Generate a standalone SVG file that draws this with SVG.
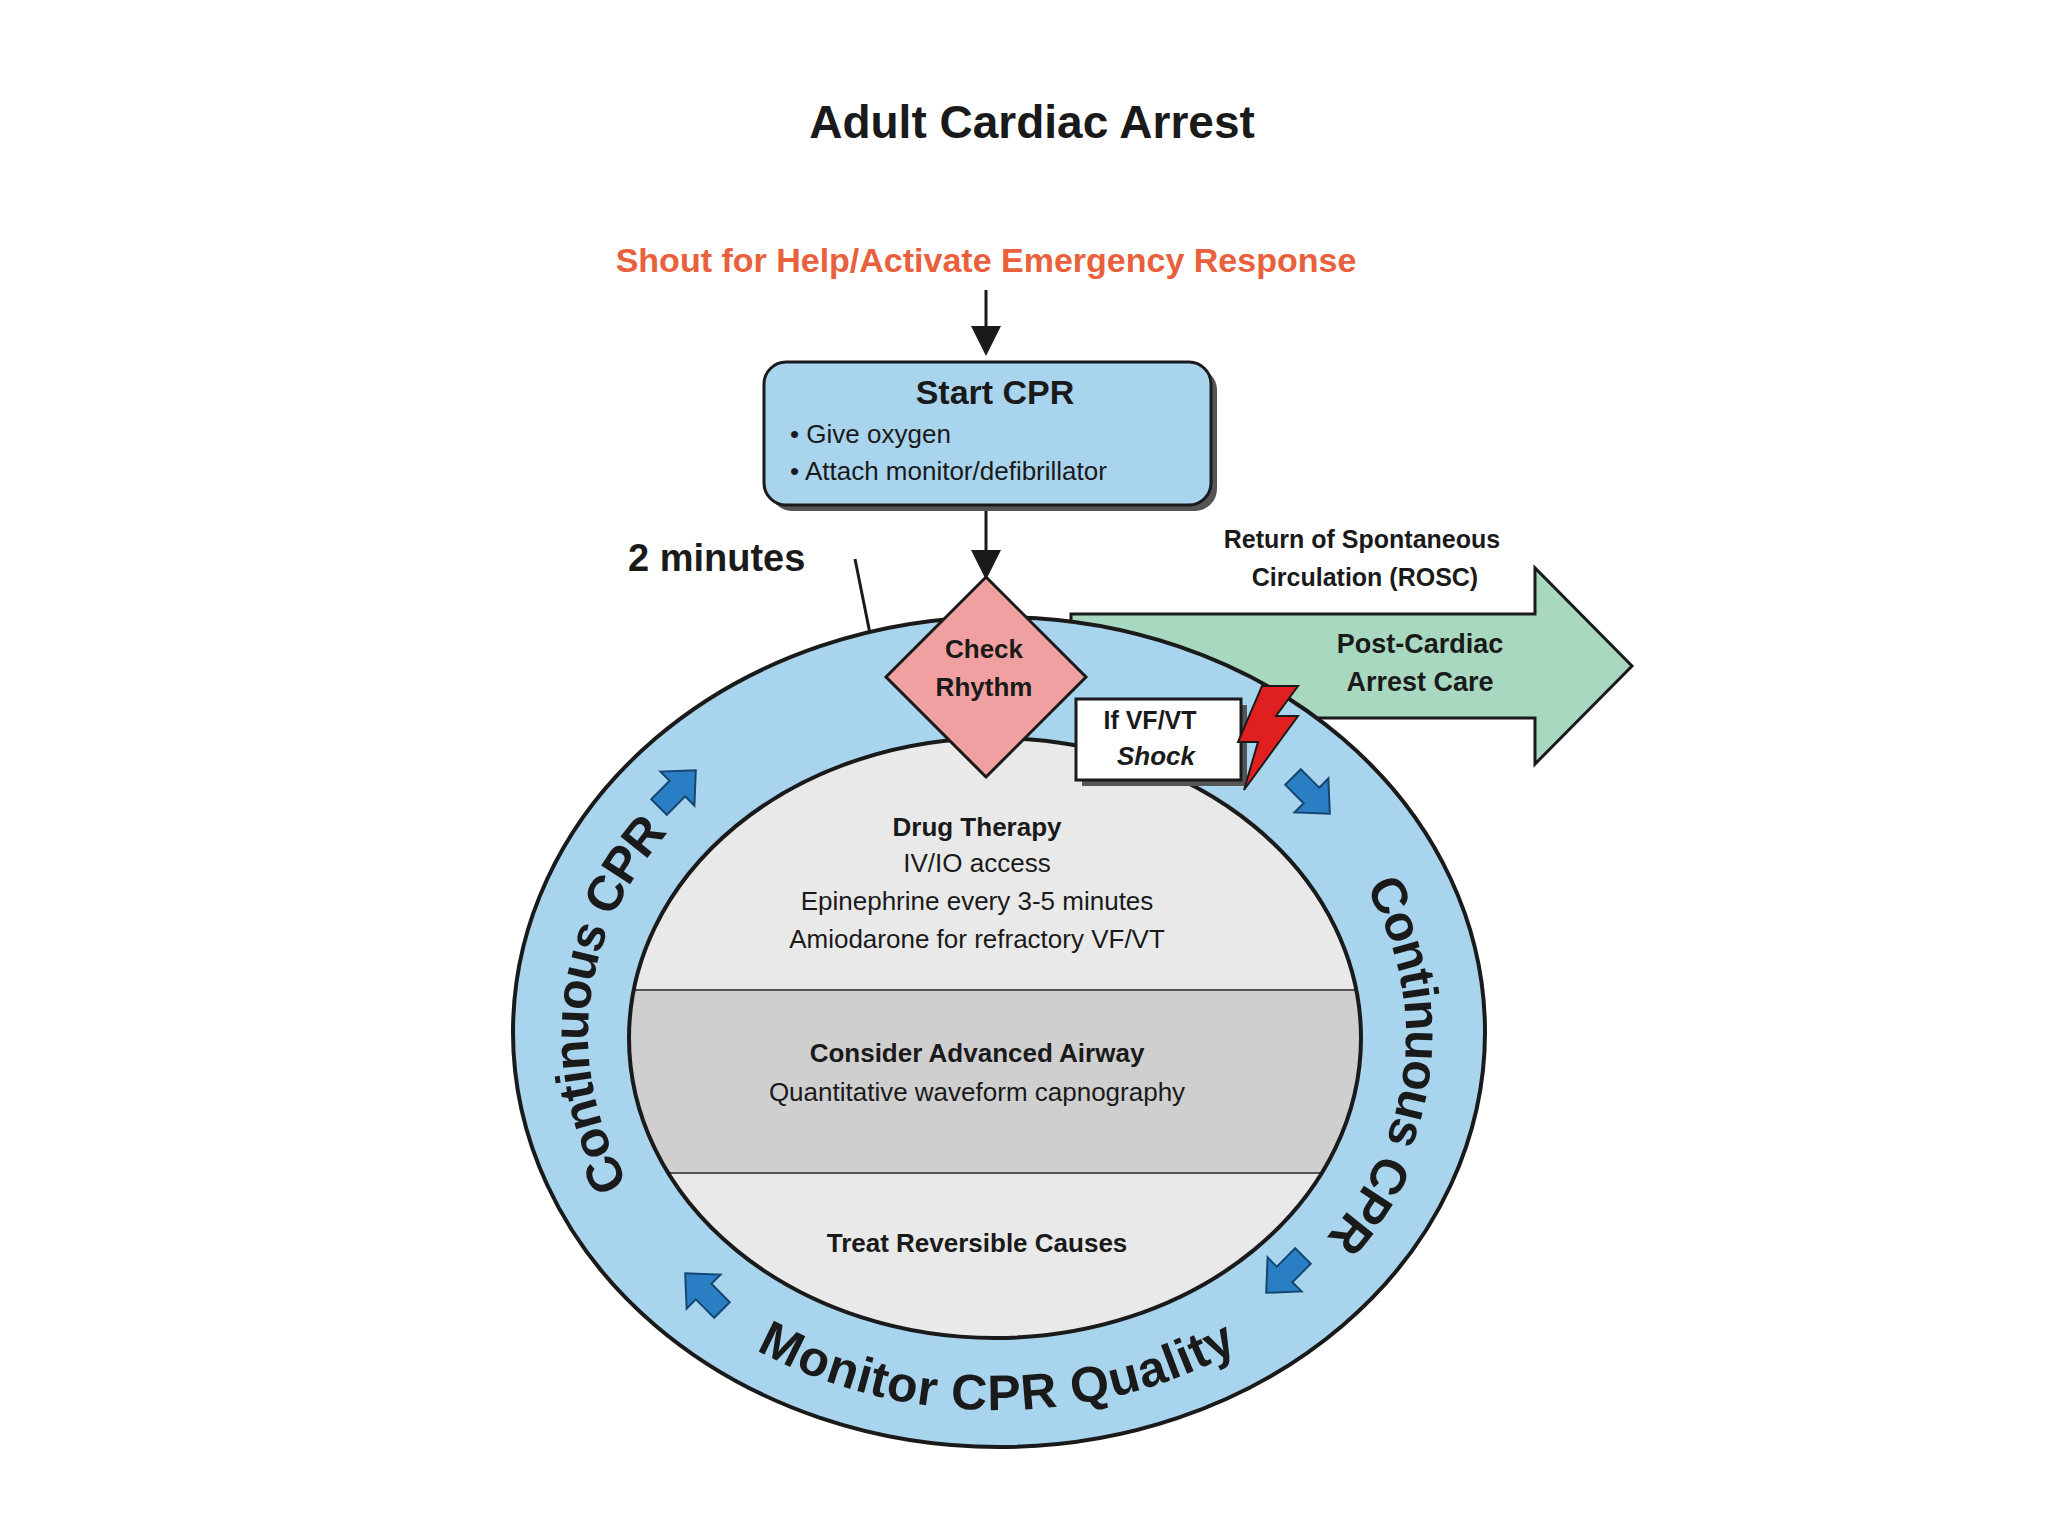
<svg xmlns="http://www.w3.org/2000/svg" width="2048" height="1536" viewBox="0 0 2048 1536">
<style>
text{font-family:"Liberation Sans",Arial,sans-serif;fill:#1a1a1a}
.b{font-weight:bold}
.c{text-anchor:middle}
.ring{font-size:50px;font-weight:bold;fill:#1a1a1a}
.ln{stroke:#1a1a1a;stroke-width:3;fill:none}
.ba{fill:#2a7fc4;stroke:#14466f;stroke-width:2}
</style>
<defs>
<marker id="ah" markerWidth="10" markerHeight="10" refX="8" refY="5" orient="auto" markerUnits="strokeWidth"><path d="M0,0 L10,5 L0,10 Z" fill="#1a1a1a"/></marker>
<path id="blk" d="M-24,-11 L2,-11 L2,-24 L28,0 L2,24 L2,11 L-24,11 Z"/>
<path id="pL" d="M723,1309 A426,358 0 0 1 784,725"/>
<path id="pR" d="M1271,761 A426,358 0 0 1 1210,1345"/>
<path id="pB" d="M628,1214 A426,358 0 0 0 1366,1214"/>
<clipPath id="inner"><ellipse cx="995" cy="1038" rx="366" ry="300"/></clipPath>
</defs>
<rect width="2048" height="1536" fill="#fff"/>
<text class="b c" x="1032" y="138" font-size="46">Adult Cardiac Arrest</text>
<text class="b c" x="986" y="272" font-size="34" style="fill:#e8603c">Shout for Help/Activate Emergency Response</text>

<g id="connectors">
<line class="ln" x1="986" y1="290" x2="986" y2="350" marker-end="url(#ah)"/>
<line class="ln" x1="986" y1="505" x2="986" y2="574" marker-end="url(#ah)"/>
<line class="ln" x1="855" y1="559" x2="891" y2="738"/>
</g>

<g id="post-care">
<path d="M1071,614 L1535,614 L1535,568 L1632,666 L1535,764 L1535,718 L1071,718 Z" fill="#a8d8c0" stroke="#1a1a1a" stroke-width="3"/>
<text class="b c" x="1420" y="653" font-size="27">Post-Cardiac</text>
<text class="b c" x="1420" y="691" font-size="27">Arrest Care</text>
</g>
<g id="rosc">
<text class="b c" x="1362" y="548" font-size="25">Return of Spontaneous</text>
<text class="b c" x="1365" y="586" font-size="25">Circulation (ROSC)</text>
</g>

<g id="cycle">
<ellipse cx="999" cy="1032" rx="486" ry="415" fill="#a9d4ee" stroke="#1a1a1a" stroke-width="4"/>
<g clip-path="url(#inner)">
<rect x="600" y="700" width="800" height="290" fill="#e9e9e9"/>
<rect x="600" y="990" width="800" height="183" fill="#cfcfcf"/>
<rect x="600" y="1173" width="800" height="200" fill="#e9e9e9"/>
<line x1="600" y1="990" x2="1400" y2="990" stroke="#555" stroke-width="2"/>
<line x1="600" y1="1173" x2="1400" y2="1173" stroke="#555" stroke-width="2"/>
</g>
<ellipse cx="995" cy="1038" rx="366" ry="300" fill="none" stroke="#1a1a1a" stroke-width="4"/>
<text class="ring"><textPath href="#pL" startOffset="50%" text-anchor="middle" dominant-baseline="central">Continuous CPR</textPath></text>
<text class="ring"><textPath href="#pR" startOffset="50%" text-anchor="middle" dominant-baseline="central">Continuous CPR</textPath></text>
<text class="ring"><textPath href="#pB" startOffset="50%" text-anchor="middle" dominant-baseline="central">Monitor CPR Quality</textPath></text>
<use href="#blk" class="ba" transform="translate(676,790) rotate(-45)"/>
<use href="#blk" class="ba" transform="translate(1310,794) rotate(45)"/>
<use href="#blk" class="ba" transform="translate(1286,1273) rotate(135)"/>
<use href="#blk" class="ba" transform="translate(705,1293) rotate(-135)"/>
</g>

<g id="drug-therapy">
<text class="b c" x="977" y="836" font-size="26">Drug Therapy</text>
<text class="c" x="977" y="872" font-size="26">IV/IO access</text>
<text class="c" x="977" y="910" font-size="26">Epinephrine every 3-5 minutes</text>
<text class="c" x="977" y="948" font-size="26">Amiodarone for refractory VF/VT</text>
</g>
<g id="airway">
<text class="b c" x="977" y="1062" font-size="26">Consider Advanced Airway</text>
<text class="c" x="977" y="1101" font-size="26">Quantitative waveform capnography</text>
</g>
<g id="reversible">
<text class="b c" x="977" y="1252" font-size="26">Treat Reversible Causes</text>
</g>

<g id="start-cpr">
<rect x="770" y="368" width="447" height="143" rx="22" fill="#555"/>
<rect x="764" y="362" width="447" height="143" rx="22" fill="#a9d4ee" stroke="#1a1a1a" stroke-width="3"/>
<text class="b c" x="995" y="404" font-size="34">Start CPR</text>
<text x="790" y="443" font-size="26">• Give oxygen</text>
<text x="790" y="480" font-size="26">• Attach monitor/defibrillator</text>
</g>

<g id="two-minutes"><text class="b" x="628" y="571" font-size="38">2 minutes</text></g>

<g id="check-rhythm">
<path d="M986,577 L1086,677 L986,777 L886,677 Z" fill="#f0a0a0" stroke="#1a1a1a" stroke-width="3"/>
<text class="b c" x="984" y="658" font-size="26">Check</text>
<text class="b c" x="984" y="696" font-size="26">Rhythm</text>
</g>

<g id="shock">
<rect x="1082" y="705" width="165" height="81" fill="#555"/>
<rect x="1076" y="699" width="165" height="81" fill="#fff" stroke="#1a1a1a" stroke-width="3"/>
<text class="b c" x="1150" y="729" font-size="25">If VF/VT</text>
<text class="b c" x="1156" y="765" font-size="26" font-style="italic">Shock</text>
<polygon points="1262,686 1298,686 1276,716 1298,716 1244,790 1258,742 1238,742" fill="#e02020" stroke="#1a1a1a" stroke-width="2"/>
</g>
</svg>
